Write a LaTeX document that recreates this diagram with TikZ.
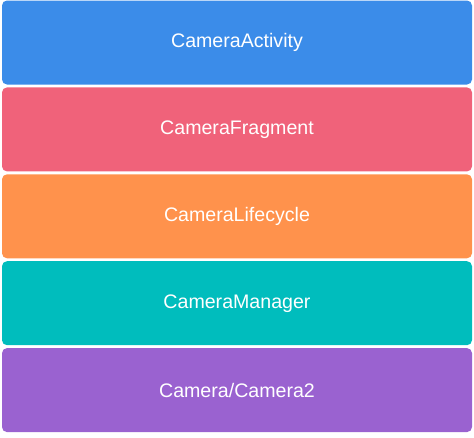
\documentclass[tikz,border=0pt]{standalone}
\usepackage{fontspec}
\setmainfont{Liberation Sans}
\usetikzlibrary{positioning}
\definecolor{layblue}{HTML}{3B8CE9}
\definecolor{laypink}{HTML}{F0627A}
\definecolor{layorange}{HTML}{FF924C}
\definecolor{layteal}{HTML}{00BDBD}
\definecolor{laypurple}{HTML}{9A62D0}

\begin{document}
\begin{tikzpicture}[
  x=1pt,y=1pt,
  node distance=2.5pt,
  layer/.style = {rectangle,rounded corners=5pt,minimum width=470pt,minimum height=84pt,
    inner sep=0pt,text=white,font=\fontsize{19.6}{23}\selectfont}
  ]
  \useasboundingbox (0,0) rectangle (474,-437);
  % Layers
  \node[layer,fill=layblue] (activity) at (237,-42.5) {CameraActivity};
  \node[layer,fill=laypink,below=of activity] (fragment) {CameraFragment};
  \node[layer,fill=layorange,below=of fragment] (lifecycle) {CameraLifecycle};
  \node[layer,fill=layteal,below=of lifecycle] (manager) {CameraManager};
  \node[layer,fill=laypurple,below=of manager] (camera) {Camera/Camera2};
\end{tikzpicture}
\end{document}
